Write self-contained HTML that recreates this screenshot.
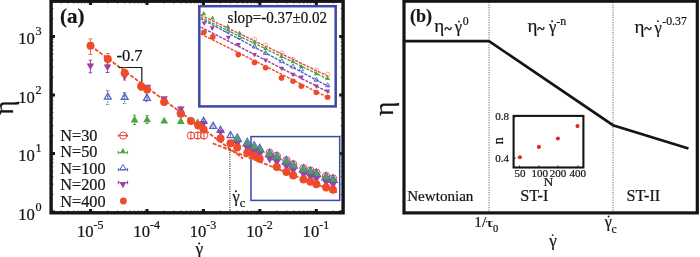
<!DOCTYPE html>
<html><head><meta charset="utf-8"><style>html,body{margin:0;padding:0;background:#fff;}svg{display:block;filter:blur(0.35px);}text{stroke:#151515;stroke-width:0.22px;}</style></head>
<body><svg width="700" height="257" viewBox="0 0 700 257"><path d="M90.6 212.8V208.9M90.6 1.2V5.1M147.03 212.8V208.9M147.03 1.2V5.1M203.46 212.8V208.9M203.46 1.2V5.1M259.89 212.8V208.9M259.89 1.2V5.1M316.32 212.8V208.9M316.32 1.2V5.1M51.1 212.1H55M343.1 212.1H339.2M51.1 153.55H55M343.1 153.55H339.2M51.1 95H55M343.1 95H339.2M51.1 36.45H55M343.1 36.45H339.2" stroke="#151515" stroke-width="3" fill="none"/>
<path d="M61.09 212.8V210.3M61.09 1.2V3.7M68.14 212.8V210.3M68.14 1.2V3.7M73.61 212.8V210.3M73.61 1.2V3.7M78.08 212.8V210.3M78.08 1.2V3.7M81.86 212.8V210.3M81.86 1.2V3.7M85.13 212.8V210.3M85.13 1.2V3.7M88.02 212.8V210.3M88.02 1.2V3.7M107.59 212.8V210.3M107.59 1.2V3.7M117.52 212.8V210.3M117.52 1.2V3.7M124.57 212.8V210.3M124.57 1.2V3.7M130.04 212.8V210.3M130.04 1.2V3.7M134.51 212.8V210.3M134.51 1.2V3.7M138.29 212.8V210.3M138.29 1.2V3.7M141.56 212.8V210.3M141.56 1.2V3.7M144.45 212.8V210.3M144.45 1.2V3.7M164.02 212.8V210.3M164.02 1.2V3.7M173.95 212.8V210.3M173.95 1.2V3.7M181 212.8V210.3M181 1.2V3.7M186.47 212.8V210.3M186.47 1.2V3.7M190.94 212.8V210.3M190.94 1.2V3.7M194.72 212.8V210.3M194.72 1.2V3.7M197.99 212.8V210.3M197.99 1.2V3.7M200.88 212.8V210.3M200.88 1.2V3.7M220.45 212.8V210.3M220.45 1.2V3.7M230.38 212.8V210.3M230.38 1.2V3.7M237.43 212.8V210.3M237.43 1.2V3.7M242.9 212.8V210.3M242.9 1.2V3.7M247.37 212.8V210.3M247.37 1.2V3.7M251.15 212.8V210.3M251.15 1.2V3.7M254.42 212.8V210.3M254.42 1.2V3.7M257.31 212.8V210.3M257.31 1.2V3.7M276.88 212.8V210.3M276.88 1.2V3.7M286.81 212.8V210.3M286.81 1.2V3.7M293.86 212.8V210.3M293.86 1.2V3.7M299.33 212.8V210.3M299.33 1.2V3.7M303.8 212.8V210.3M303.8 1.2V3.7M307.58 212.8V210.3M307.58 1.2V3.7M310.85 212.8V210.3M310.85 1.2V3.7M313.74 212.8V210.3M313.74 1.2V3.7M333.31 212.8V210.3M333.31 1.2V3.7M51.1 194.47H53.6M343.1 194.47H340.6M51.1 184.16H53.6M343.1 184.16H340.6M51.1 176.85H53.6M343.1 176.85H340.6M51.1 171.18H53.6M343.1 171.18H340.6M51.1 166.54H53.6M343.1 166.54H340.6M51.1 162.62H53.6M343.1 162.62H340.6M51.1 159.22H53.6M343.1 159.22H340.6M51.1 156.23H53.6M343.1 156.23H340.6M51.1 135.92H53.6M343.1 135.92H340.6M51.1 125.61H53.6M343.1 125.61H340.6M51.1 118.3H53.6M343.1 118.3H340.6M51.1 112.63H53.6M343.1 112.63H340.6M51.1 107.99H53.6M343.1 107.99H340.6M51.1 104.07H53.6M343.1 104.07H340.6M51.1 100.67H53.6M343.1 100.67H340.6M51.1 97.68H53.6M343.1 97.68H340.6M51.1 77.37H53.6M343.1 77.37H340.6M51.1 67.06H53.6M343.1 67.06H340.6M51.1 59.75H53.6M343.1 59.75H340.6M51.1 54.08H53.6M343.1 54.08H340.6M51.1 49.44H53.6M343.1 49.44H340.6M51.1 45.52H53.6M343.1 45.52H340.6M51.1 42.12H53.6M343.1 42.12H340.6M51.1 39.13H53.6M343.1 39.13H340.6M51.1 18.82H53.6M343.1 18.82H340.6M51.1 8.51H53.6M343.1 8.51H340.6" stroke="#888" stroke-width="1.1" fill="none"/>
<rect x="199.3" y="6.2" width="136.4" height="100.2" fill="#fff" stroke="#3A48A8" stroke-width="2.5"/>
<rect x="251" y="136.6" width="88.7" height="63.8" fill="none" stroke="#3A48A8" stroke-width="1.5"/>
<path d="M90.5 45.7L243.1 158.5" stroke="#EE4B2B" stroke-width="1.8" stroke-dasharray="4 1.5" fill="none"/>
<path d="M212.8 143.3L337 192.3" stroke="#EE4B2B" stroke-width="1.8" stroke-dasharray="4 1.5" fill="none"/>
<path d="M229.9 149.5V211" stroke="#333" stroke-width="1.1" stroke-dasharray="1.1 1.2" fill="none"/>
<path d="M118.5 67.5H141.8V85" stroke="#151515" stroke-width="1.2" fill="none"/>
<path d="M90.5 38.9V54.5M88.5 38.9h4M88.5 54.5h4" stroke="#F07050" stroke-width="1" fill="none"/>
<path d="M107.8 53.5V64.2M105.8 53.5h4M105.8 64.2h4" stroke="#F07050" stroke-width="1" fill="none"/>
<path d="M124.7 68V78M122.95 68h3.5M122.95 78h3.5" stroke="#F07050" stroke-width="1" fill="none"/>
<path d="M141.1 82V90.5M139.6 82h3M139.6 90.5h3" stroke="#F07050" stroke-width="1" fill="none"/>
<path d="M90.4 60.2V72.8M88.65 60.2h3.5M88.65 72.8h3.5" stroke="#A040A0" stroke-width="1" fill="none"/>
<path d="M107.5 60.3V72.5M105.75 60.3h3.5M105.75 72.5h3.5" stroke="#A040A0" stroke-width="1" fill="none"/>
<path d="M124.5 72V80M123 72h3M123 80h3" stroke="#A040A0" stroke-width="1" fill="none"/>
<path d="M107.8 90.4V104.4M106.05 90.4h3.5M106.05 104.4h3.5" stroke="#5264C2" stroke-width="1" fill="none" stroke-dasharray="1.5 1.2"/>
<path d="M124.7 92.6V103.6M122.95 92.6h3.5M122.95 103.6h3.5" stroke="#5264C2" stroke-width="1" fill="none" stroke-dasharray="1.5 1.2"/>
<path d="M147 94V101.6M145.5 94h3M145.5 101.6h3" stroke="#5264C2" stroke-width="1" fill="none" stroke-dasharray="1.5 1.2"/>
<path d="M134.6 115.2V124.5M133.1 115.2h3M133.1 124.5h3" stroke="#4CA640" stroke-width="1" fill="none"/>
<path d="M147.1 115.6V123.5M145.6 115.6h3M145.6 123.5h3" stroke="#4CA640" stroke-width="1" fill="none"/>
<path d="M190.9 132.5V138.5M189.65 132.5h2.5M189.65 138.5h2.5" stroke="#E8453C" stroke-width="1" fill="none"/>
<path d="M197.7 132.5V138.5M196.45 132.5h2.5M196.45 138.5h2.5" stroke="#E8453C" stroke-width="1" fill="none"/>
<path d="M203.9 132.5V138.5M202.65 132.5h2.5M202.65 138.5h2.5" stroke="#E8453C" stroke-width="1" fill="none"/>
<circle cx="190.9" cy="135.5" r="3.7" fill="none" stroke="#E8453C" stroke-width="1"/>
<circle cx="197.7" cy="135.5" r="3.7" fill="none" stroke="#E8453C" stroke-width="1"/>
<circle cx="203.9" cy="135.5" r="3.7" fill="none" stroke="#E8453C" stroke-width="1"/>
<circle cx="269.7" cy="152.9" r="3.7" fill="none" stroke="#E8453C" stroke-width="1"/>
<circle cx="276.8" cy="155.9" r="3.7" fill="none" stroke="#E8453C" stroke-width="1"/>
<circle cx="286.4" cy="160.2" r="3.7" fill="none" stroke="#E8453C" stroke-width="1"/>
<circle cx="293.2" cy="164.3" r="3.7" fill="none" stroke="#E8453C" stroke-width="1"/>
<circle cx="303.5" cy="168.3" r="3.7" fill="none" stroke="#E8453C" stroke-width="1"/>
<circle cx="310.4" cy="170.7" r="3.7" fill="none" stroke="#E8453C" stroke-width="1"/>
<circle cx="316.4" cy="172.7" r="3.7" fill="none" stroke="#E8453C" stroke-width="1"/>
<circle cx="326.1" cy="176.1" r="3.7" fill="none" stroke="#E8453C" stroke-width="1"/>
<circle cx="333" cy="178.5" r="3.7" fill="none" stroke="#E8453C" stroke-width="1"/>
<polygon points="134.6,115.6 138.5,122.42 130.7,122.42" fill="#4CA640"/>
<polygon points="147.1,115.5 151,122.33 143.2,122.33" fill="#4CA640"/>
<polygon points="164.2,116.7 168.1,123.52 160.3,123.52" fill="#4CA640"/>
<polygon points="180.8,117.1 184.7,123.92 176.9,123.92" fill="#4CA640"/>
<polygon points="197.6,118.3 201.5,125.12 193.7,125.12" fill="#4CA640"/>
<polygon points="237.2,134.7 241.1,141.53 233.3,141.53" fill="#4CA640"/>
<polygon points="247.3,139.1 251.2,145.93 243.4,145.93" fill="#4CA640"/>
<polygon points="254.1,142.5 258,149.33 250.2,149.33" fill="#4CA640"/>
<polygon points="259.7,145.1 263.6,151.93 255.8,151.93" fill="#4CA640"/>
<polygon points="269.7,150 273.6,156.83 265.8,156.83" fill="#4CA640"/>
<polygon points="276.8,153 280.7,159.83 272.9,159.83" fill="#4CA640"/>
<polygon points="286.4,157.3 290.3,164.12 282.5,164.12" fill="#4CA640"/>
<polygon points="293.2,161.4 297.1,168.23 289.3,168.23" fill="#4CA640"/>
<polygon points="303.5,165.4 307.4,172.23 299.6,172.23" fill="#4CA640"/>
<polygon points="310.4,167.8 314.3,174.62 306.5,174.62" fill="#4CA640"/>
<polygon points="316.4,169.8 320.3,176.62 312.5,176.62" fill="#4CA640"/>
<polygon points="326.1,173.2 330,180.03 322.2,180.03" fill="#4CA640"/>
<polygon points="333,175.6 336.9,182.43 329.1,182.43" fill="#4CA640"/>
<polygon points="107.8,93.1 111.2,99.05 104.4,99.05" fill="none" stroke="#5264C2" stroke-width="1.3"/>
<path d="M107.8 95V98.9" stroke="#5264C2" stroke-width="0.8"/>
<polygon points="124.7,93.4 128.1,99.35 121.3,99.35" fill="none" stroke="#5264C2" stroke-width="1.3"/>
<path d="M124.7 95.3V99.2" stroke="#5264C2" stroke-width="0.8"/>
<polygon points="147,94.4 150.4,100.35 143.6,100.35" fill="none" stroke="#5264C2" stroke-width="1.3"/>
<path d="M147 96.3V100.2" stroke="#5264C2" stroke-width="0.8"/>
<polygon points="180.8,106.9 184.2,112.85 177.4,112.85" fill="none" stroke="#5264C2" stroke-width="1.3"/>
<path d="M180.8 108.8V112.7" stroke="#5264C2" stroke-width="0.8"/>
<polygon points="203.6,117.4 207,123.35 200.2,123.35" fill="none" stroke="#5264C2" stroke-width="1.3"/>
<path d="M203.6 119.3V123.2" stroke="#5264C2" stroke-width="0.8"/>
<polygon points="213.1,122.4 216.5,128.35 209.7,128.35" fill="none" stroke="#5264C2" stroke-width="1.3"/>
<path d="M213.1 124.3V128.2" stroke="#5264C2" stroke-width="0.8"/>
<polygon points="220.5,126.3 223.9,132.25 217.1,132.25" fill="none" stroke="#5264C2" stroke-width="1.3"/>
<path d="M220.5 128.2V132.1" stroke="#5264C2" stroke-width="0.8"/>
<polygon points="230.5,131.6 233.9,137.55 227.1,137.55" fill="none" stroke="#5264C2" stroke-width="1.3"/>
<path d="M230.5 133.5V137.4" stroke="#5264C2" stroke-width="0.8"/>
<polygon points="237.2,133.8 241.6,141.5 232.8,141.5" fill="none" stroke="#5264C2" stroke-width="1.1"/>
<polygon points="247.3,138.2 251.7,145.9 242.9,145.9" fill="none" stroke="#5264C2" stroke-width="1.1"/>
<polygon points="254.1,141.6 258.5,149.3 249.7,149.3" fill="none" stroke="#5264C2" stroke-width="1.1"/>
<polygon points="259.7,144.2 264.1,151.9 255.3,151.9" fill="none" stroke="#5264C2" stroke-width="1.1"/>
<polygon points="269.7,149.1 274.1,156.8 265.3,156.8" fill="none" stroke="#5264C2" stroke-width="1.1"/>
<polygon points="276.8,152.1 281.2,159.8 272.4,159.8" fill="none" stroke="#5264C2" stroke-width="1.1"/>
<polygon points="286.4,156.4 290.8,164.1 282,164.1" fill="none" stroke="#5264C2" stroke-width="1.1"/>
<polygon points="293.2,160.5 297.6,168.2 288.8,168.2" fill="none" stroke="#5264C2" stroke-width="1.1"/>
<polygon points="303.5,164.5 307.9,172.2 299.1,172.2" fill="none" stroke="#5264C2" stroke-width="1.1"/>
<polygon points="310.4,166.9 314.8,174.6 306,174.6" fill="none" stroke="#5264C2" stroke-width="1.1"/>
<polygon points="316.4,168.9 320.8,176.6 312,176.6" fill="none" stroke="#5264C2" stroke-width="1.1"/>
<polygon points="326.1,172.3 330.5,180 321.7,180" fill="none" stroke="#5264C2" stroke-width="1.1"/>
<polygon points="333,174.7 337.4,182.4 328.6,182.4" fill="none" stroke="#5264C2" stroke-width="1.1"/>
<polygon points="90.4,70.1 94.2,63.45 86.6,63.45" fill="#A040A0"/>
<polygon points="107.5,71.1 111.3,64.45 103.7,64.45" fill="#A040A0"/>
<polygon points="124.5,80.1 128.3,73.45 120.7,73.45" fill="#A040A0"/>
<polygon points="147.5,91.3 151.3,84.65 143.7,84.65" fill="#A040A0"/>
<polygon points="164.1,102.8 167.9,96.15 160.3,96.15" fill="#A040A0"/>
<polygon points="180.8,113.1 184.6,106.45 177,106.45" fill="#A040A0"/>
<polygon points="203.6,127.7 207.4,121.05 199.8,121.05" fill="#A040A0"/>
<polygon points="220.5,136.3 224.3,129.65 216.7,129.65" fill="#A040A0"/>
<polygon points="237.2,148.2 241,141.55 233.4,141.55" fill="#A040A0"/>
<polygon points="247.3,152.6 251.1,145.95 243.5,145.95" fill="#A040A0"/>
<polygon points="254.1,156 257.9,149.35 250.3,149.35" fill="#A040A0"/>
<polygon points="259.7,158.6 263.5,151.95 255.9,151.95" fill="#A040A0"/>
<polygon points="269.7,163.5 273.5,156.85 265.9,156.85" fill="#A040A0"/>
<polygon points="276.8,166.5 280.6,159.85 273,159.85" fill="#A040A0"/>
<polygon points="286.4,170.8 290.2,164.15 282.6,164.15" fill="#A040A0"/>
<polygon points="293.2,174.9 297,168.25 289.4,168.25" fill="#A040A0"/>
<polygon points="303.5,178.9 307.3,172.25 299.7,172.25" fill="#A040A0"/>
<polygon points="310.4,181.3 314.2,174.65 306.6,174.65" fill="#A040A0"/>
<polygon points="316.4,183.3 320.2,176.65 312.6,176.65" fill="#A040A0"/>
<polygon points="326.1,186.7 329.9,180.05 322.3,180.05" fill="#A040A0"/>
<polygon points="333,189.1 336.8,182.45 329.2,182.45" fill="#A040A0"/>
<circle cx="90.5" cy="45.7" r="4.0" fill="#EE4B2B"/>
<circle cx="107.8" cy="58.9" r="4.0" fill="#EE4B2B"/>
<circle cx="124.7" cy="72.9" r="4.0" fill="#EE4B2B"/>
<circle cx="141.1" cy="86.3" r="4.0" fill="#EE4B2B"/>
<circle cx="147.1" cy="89.5" r="4.0" fill="#EE4B2B"/>
<circle cx="164.1" cy="102.1" r="4.0" fill="#EE4B2B"/>
<circle cx="180.8" cy="113.8" r="4.0" fill="#EE4B2B"/>
<circle cx="190.9" cy="120.9" r="4.0" fill="#EE4B2B"/>
<circle cx="198.2" cy="125.6" r="4.0" fill="#EE4B2B"/>
<circle cx="203.6" cy="129.5" r="4.0" fill="#EE4B2B"/>
<circle cx="220.5" cy="138.6" r="4.0" fill="#EE4B2B"/>
<circle cx="230.5" cy="143.2" r="4.0" fill="#EE4B2B"/>
<circle cx="237.2" cy="147.6" r="4.0" fill="#EE4B2B"/>
<circle cx="247.3" cy="152.8" r="4.0" fill="#EE4B2B"/>
<circle cx="254.1" cy="155.8" r="4.0" fill="#EE4B2B"/>
<circle cx="259.7" cy="158.8" r="4.0" fill="#EE4B2B"/>
<circle cx="276.8" cy="167" r="4.0" fill="#EE4B2B"/>
<circle cx="286.4" cy="172" r="4.0" fill="#EE4B2B"/>
<circle cx="293.2" cy="175.4" r="4.0" fill="#EE4B2B"/>
<circle cx="303.5" cy="179.5" r="4.0" fill="#EE4B2B"/>
<circle cx="310.4" cy="181.8" r="4.0" fill="#EE4B2B"/>
<circle cx="316.4" cy="184.2" r="4.0" fill="#EE4B2B"/>
<circle cx="326.1" cy="187.4" r="4.0" fill="#EE4B2B"/>
<circle cx="333" cy="189.8" r="4.0" fill="#EE4B2B"/>
<path d="M200.6 15L329.5 76.87" stroke="#E8453C" stroke-width="1.4" stroke-dasharray="3 1.2" fill="none"/>
<path d="M200.6 17.3L329.5 79.82" stroke="#4CA640" stroke-width="1.4" stroke-dasharray="3 1.2" fill="none"/>
<path d="M200.6 18.6L329.5 86.92" stroke="#5264C2" stroke-width="1.4" stroke-dasharray="3 1.2" fill="none"/>
<path d="M200.6 27L329.5 92.74" stroke="#A040A0" stroke-width="1.4" stroke-dasharray="3 1.2" fill="none"/>
<path d="M200.6 33.8L329.5 98.25" stroke="#EE4B2B" stroke-width="1.4" stroke-dasharray="3 1.2" fill="none"/>
<circle cx="254.5" cy="39.5" r="2.2" fill="none" stroke="#F4A0A0" stroke-width="1"/>
<circle cx="265.6" cy="45.3" r="2.2" fill="none" stroke="#F4A0A0" stroke-width="1"/>
<circle cx="281.7" cy="53.1" r="2.2" fill="none" stroke="#F4A0A0" stroke-width="1"/>
<circle cx="293" cy="59.5" r="2.2" fill="none" stroke="#F4A0A0" stroke-width="1"/>
<circle cx="316.3" cy="70.2" r="2.2" fill="none" stroke="#F4A0A0" stroke-width="1"/>
<circle cx="327.6" cy="74.3" r="2.2" fill="none" stroke="#F4A0A0" stroke-width="1"/>
<polygon points="203.8,11.1 206.2,15.3 201.4,15.3" fill="#4CA640"/>
<polygon points="212.5,15.4 214.9,19.6 210.1,19.6" fill="#4CA640"/>
<polygon points="227.9,24.1 230.3,28.3 225.5,28.3" fill="#4CA640"/>
<polygon points="239.6,30.6 242,34.8 237.2,34.8" fill="#4CA640"/>
<polygon points="254.5,39.2 256.9,43.4 252.1,43.4" fill="#4CA640"/>
<polygon points="265.6,45.8 268,50 263.2,50" fill="#4CA640"/>
<polygon points="281.6,53.8 284,58 279.2,58" fill="#4CA640"/>
<polygon points="293,59.1 295.4,63.3 290.6,63.3" fill="#4CA640"/>
<polygon points="301.3,63.9 303.7,68.1 298.9,68.1" fill="#4CA640"/>
<polygon points="316.3,71.1 318.7,75.3 313.9,75.3" fill="#4CA640"/>
<polygon points="327.6,75.7 330,79.9 325.2,79.9" fill="#4CA640"/>
<polygon points="228,28.2 230.3,32.23 225.7,32.23" fill="none" stroke="#5264C2" stroke-width="0.9"/>
<polygon points="239.6,34.7 241.9,38.73 237.3,38.73" fill="none" stroke="#5264C2" stroke-width="0.9"/>
<polygon points="254.5,44 256.8,48.02 252.2,48.02" fill="none" stroke="#5264C2" stroke-width="0.9"/>
<polygon points="265.6,50.4 267.9,54.43 263.3,54.43" fill="none" stroke="#5264C2" stroke-width="0.9"/>
<polygon points="281.7,58.6 284,62.62 279.4,62.62" fill="none" stroke="#5264C2" stroke-width="0.9"/>
<polygon points="293,64 295.3,68.02 290.7,68.02" fill="none" stroke="#5264C2" stroke-width="0.9"/>
<polygon points="301.3,66.7 303.6,70.72 299,70.72" fill="none" stroke="#5264C2" stroke-width="0.9"/>
<polygon points="316.3,77.2 318.6,81.22 314,81.22" fill="none" stroke="#5264C2" stroke-width="0.9"/>
<polygon points="327.6,82.7 329.9,86.72 325.3,86.72" fill="none" stroke="#5264C2" stroke-width="0.9"/>
<polygon points="204.2,26 206.8,21.45 201.6,21.45" fill="#A040A0"/>
<polygon points="212.3,30.9 214.9,26.35 209.7,26.35" fill="#A040A0"/>
<polygon points="228.4,40.3 231,35.75 225.8,35.75" fill="#A040A0"/>
<polygon points="238.3,47.5 240.9,42.95 235.7,42.95" fill="#A040A0"/>
<polygon points="254.5,57.6 257.1,53.05 251.9,53.05" fill="#A040A0"/>
<polygon points="265.6,63.1 268.2,58.55 263,58.55" fill="#A040A0"/>
<polygon points="281.7,71.2 284.3,66.65 279.1,66.65" fill="#A040A0"/>
<polygon points="293,77.2 295.6,72.65 290.4,72.65" fill="#A040A0"/>
<polygon points="301.3,80.1 303.9,75.55 298.7,75.55" fill="#A040A0"/>
<polygon points="316.3,89 318.9,84.45 313.7,84.45" fill="#A040A0"/>
<polygon points="327.6,94 330.2,89.45 325,89.45" fill="#A040A0"/>
<circle cx="203.9" cy="32.2" r="2.8" fill="#EE4B2B"/>
<circle cx="212.8" cy="36.9" r="2.8" fill="#EE4B2B"/>
<circle cx="238.3" cy="54.6" r="2.8" fill="#EE4B2B"/>
<circle cx="254.5" cy="62.4" r="2.8" fill="#EE4B2B"/>
<circle cx="265.6" cy="67.7" r="2.8" fill="#EE4B2B"/>
<circle cx="281.5" cy="77.9" r="2.8" fill="#EE4B2B"/>
<circle cx="293" cy="81.2" r="2.8" fill="#EE4B2B"/>
<circle cx="301.3" cy="86.2" r="2.8" fill="#EE4B2B"/>
<circle cx="316.3" cy="92.5" r="2.8" fill="#EE4B2B"/>
<circle cx="327.6" cy="97.2" r="2.8" fill="#EE4B2B"/>
<rect x="51.1" y="1.2" width="292" height="211.6" fill="none" stroke="#151515" stroke-width="3.4"/>
<text x="60.2" y="140.6" font-family="Liberation Serif, serif" font-size="16.3" fill="#151515">N=30</text>
<text x="60.2" y="157.1" font-family="Liberation Serif, serif" font-size="16.3" fill="#151515">N=50</text>
<text x="60.2" y="173.6" font-family="Liberation Serif, serif" font-size="16.3" fill="#151515">N=100</text>
<text x="60.2" y="190.1" font-family="Liberation Serif, serif" font-size="16.3" fill="#151515">N=200</text>
<text x="60.2" y="206.6" font-family="Liberation Serif, serif" font-size="16.3" fill="#151515">N=400</text>
<circle cx="123.2" cy="135.6" r="3.6" fill="none" stroke="#E8453C" stroke-width="1"/>
<path d="M118.3 134.4v2.4M118.3 135.6H127.6M127.6 134.4v2.4" stroke="#E8453C" stroke-width="1" fill="none"/>
<polygon points="122.9,147.9 125.9,153.15 119.9,153.15" fill="#4CA640"/>
<path d="M118.3 151v3.2M118.3 152.6H127.6M127.6 151v3.2" stroke="#4CA640" stroke-width="1" fill="none"/>
<polygon points="122.9,164.3 126.1,169.9 119.7,169.9" fill="none" stroke="#5264C2" stroke-width="1"/>
<path d="M118.3 168.1v3.2M118.3 169.7H127.6M127.6 168.1v3.2" stroke="#5264C2" stroke-width="1" fill="none"/>
<polygon points="122.9,188.3 126.3,182.35 119.5,182.35" fill="#A040A0"/>
<path d="M118.3 180.7v3.6M118.3 182.5H127.6M127.6 180.7v3.6" stroke="#A040A0" stroke-width="1" fill="none"/>
<circle cx="123.4" cy="201" r="3.4" fill="#EE4B2B"/>
<text x="18.2" y="219.7" font-family="Liberation Serif, serif" font-size="16.6" fill="#151515">10<tspan dx="0.6" dy="-8.7" font-size="12.2">0</tspan></text>
<text x="18.2" y="161.15" font-family="Liberation Serif, serif" font-size="16.6" fill="#151515">10<tspan dx="0.6" dy="-8.7" font-size="12.2">1</tspan></text>
<text x="18.2" y="102.6" font-family="Liberation Serif, serif" font-size="16.6" fill="#151515">10<tspan dx="0.6" dy="-8.7" font-size="12.2">2</tspan></text>
<text x="18.2" y="44.05" font-family="Liberation Serif, serif" font-size="16.6" fill="#151515">10<tspan dx="0.6" dy="-8.7" font-size="12.2">3</tspan></text>
<text x="76.9" y="236.7" font-family="Liberation Serif, serif" font-size="16.6" fill="#151515">10<tspan dy="-7.4" font-size="12">-5</tspan></text>
<text x="133.33" y="236.7" font-family="Liberation Serif, serif" font-size="16.6" fill="#151515">10<tspan dy="-7.4" font-size="12">-4</tspan></text>
<text x="189.76" y="236.7" font-family="Liberation Serif, serif" font-size="16.6" fill="#151515">10<tspan dy="-7.4" font-size="12">-3</tspan></text>
<text x="246.19" y="236.7" font-family="Liberation Serif, serif" font-size="16.6" fill="#151515">10<tspan dy="-7.4" font-size="12">-2</tspan></text>
<text x="302.62" y="236.7" font-family="Liberation Serif, serif" font-size="16.6" fill="#151515">10<tspan dy="-7.4" font-size="12">-1</tspan></text>
<text x="60.1" y="22.6" font-family="Liberation Serif, serif" font-weight="bold" font-size="21" fill="#151515">(a)</text>
<text x="116.4" y="60.6" font-family="Liberation Serif, serif" font-size="16.5" fill="#151515">-0.7</text>
<text transform="translate(227.6 22.5) scale(0.94 1)" font-family="Liberation Serif, serif" font-size="16" fill="#151515">slop=-0.37±0.02</text>
<text x="232.4" y="201.8" font-family="Liberation Serif, serif" font-size="16.3" fill="#151515">γ</text>
<text x="239.8" y="207" font-family="Liberation Serif, serif" font-size="12.5" fill="#151515">c</text>
<circle cx="235.9" cy="191.3" r="0.95" fill="#151515"/>
<text x="195.4" y="254" font-family="Liberation Serif, serif" font-size="17.5" fill="#151515">γ</text>
<circle cx="199.1" cy="243.6" r="1" fill="#151515"/>
<text transform="translate(13.4 107.6) rotate(-90)" text-anchor="middle" font-family="Liberation Serif, serif" font-size="27.5" fill="#151515">η</text>
<path d="M489 2V212M613 2V212" stroke="#666" stroke-width="1" stroke-dasharray="1.2 1.3" fill="none"/>
<path d="M405 41.1H489L613 125.2L688.5 148.6" stroke="#151515" stroke-width="2.6" fill="none" stroke-linejoin="miter"/>
<rect x="404.0" y="1.2" width="293.3" height="211.7" fill="none" stroke="#151515" stroke-width="3.2"/>
<text x="409.9" y="21.5" font-family="Liberation Serif, serif" font-weight="bold" font-size="18" fill="#151515">(b)</text>
<text x="434.2" y="32.3" font-family="Liberation Serif, serif" font-size="19" fill="#151515">η</text>
<text x="444.6" y="33.8" font-family="Liberation Serif, serif" font-weight="bold" font-size="14" fill="#151515">~</text>
<text x="454.7" y="32.3" font-family="Liberation Serif, serif" font-size="16.5" fill="#151515">γ</text>
<text x="462.8" y="24.6" font-family="Liberation Serif, serif" font-size="11.8" fill="#151515">0</text>
<text x="527.5" y="32.3" font-family="Liberation Serif, serif" font-size="19" fill="#151515">η</text>
<text x="537.2" y="33.8" font-family="Liberation Serif, serif" font-weight="bold" font-size="14" fill="#151515">~</text>
<text x="549" y="32.3" font-family="Liberation Serif, serif" font-size="16.5" fill="#151515">γ</text>
<text x="556.3" y="24.9" font-family="Liberation Serif, serif" font-size="11.8" fill="#151515">-n</text>
<text x="634.4" y="32.8" font-family="Liberation Serif, serif" font-size="19" fill="#151515">η</text>
<text x="644.2" y="34.3" font-family="Liberation Serif, serif" font-weight="bold" font-size="14" fill="#151515">~</text>
<text x="654.5" y="32.8" font-family="Liberation Serif, serif" font-size="16.5" fill="#151515">γ</text>
<text x="662.3" y="25" font-family="Liberation Serif, serif" font-size="11.8" fill="#151515">-0.37</text>
<text x="407.2" y="200.8" font-family="Liberation Serif, serif" font-size="15.1" fill="#151515">Newtonian</text>
<text x="520.2" y="201.2" font-family="Liberation Serif, serif" font-size="16.2" fill="#151515">ST-I</text>
<text x="626.6" y="200.8" font-family="Liberation Serif, serif" font-size="16.2" fill="#151515">ST-II</text>
<text x="474.3" y="227.2" font-family="Liberation Serif, serif" font-size="15.2" fill="#151515">1/</text>
<text transform="translate(485.5 227.2) scale(1.3 0.85)" font-family="Liberation Serif, serif" font-size="15.2" fill="#151515">τ</text>
<text x="493" y="232.4" font-family="Liberation Serif, serif" font-size="10.5" fill="#151515">0</text>
<text x="604.8" y="227" font-family="Liberation Serif, serif" font-size="16" fill="#151515">γ</text>
<text x="611.5" y="232.8" font-family="Liberation Serif, serif" font-size="11.5" fill="#151515">c</text>
<text x="549.3" y="245.6" font-family="Liberation Serif, serif" font-size="17" fill="#151515">γ</text>
<text transform="translate(392.5 108.7) rotate(-90)" text-anchor="middle" font-family="Liberation Serif, serif" font-size="27.5" fill="#151515">η</text>
<rect x="513.6" y="115.9" width="69.8" height="51.6" fill="none" stroke="#151515" stroke-width="2.1"/>
<path d="M519.6 167.5v-2M538.9 167.5v-2M557.9 167.5v-2M577.9 167.5v-2M513.6 116.8h2M513.6 158h2" stroke="#151515" stroke-width="1"/>
<circle cx="519.9" cy="157.2" r="2.05" fill="#E02828"/>
<circle cx="538.9" cy="146.9" r="2.05" fill="#E02828"/>
<circle cx="557.9" cy="138.5" r="2.05" fill="#E02828"/>
<circle cx="577.5" cy="126.1" r="2.05" fill="#E02828"/>
<text x="495.2" y="120" font-family="Liberation Serif, serif" font-size="11" fill="#151515">0.8</text>
<text x="495.2" y="161.7" font-family="Liberation Serif, serif" font-size="11" fill="#151515">0.4</text>
<text x="514.5" y="177.4" font-family="Liberation Serif, serif" font-size="11" fill="#151515">50</text>
<text x="531.6" y="177.4" font-family="Liberation Serif, serif" font-size="11" fill="#151515">100</text>
<text x="549.7" y="177.4" font-family="Liberation Serif, serif" font-size="11" fill="#151515">200</text>
<text x="569.6" y="177.4" font-family="Liberation Serif, serif" font-size="11" fill="#151515">400</text>
<text x="543.6" y="186" font-family="Liberation Serif, serif" font-size="13.5" fill="#151515">N</text>
<text transform="translate(502.6 140.7) rotate(-90)" text-anchor="middle" font-family="Liberation Serif, serif" font-size="14" fill="#151515">n</text>
<circle cx="608.6" cy="216.5" r="0.95" fill="#151515"/>
<circle cx="552.7" cy="235.1" r="0.95" fill="#151515"/>
<circle cx="458.9" cy="21.6" r="0.95" fill="#151515"/>
<circle cx="552.1" cy="21.3" r="0.95" fill="#151515"/>
<circle cx="658" cy="21.1" r="0.95" fill="#151515"/></svg></body></html>
